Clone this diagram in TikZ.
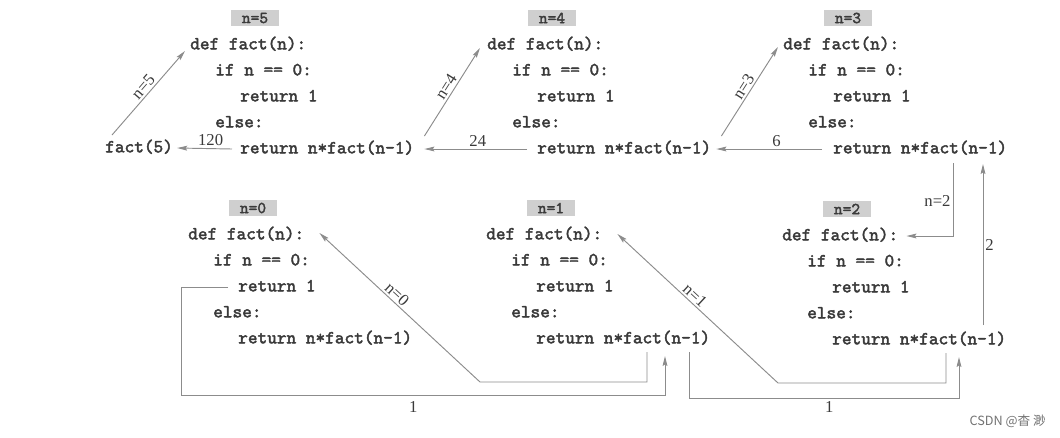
\documentclass[tikz,border=0pt]{standalone}
\usepackage{fontspec}
\newfontfamily\tms{Liberation Serif}
\newfontfamily\cjk{Noto Sans CJK SC}
\newfontfamily\cmono{lmmono10-regular.otf}[FakeBold=2.2]
\usetikzlibrary{arrows.meta,calc}
\definecolor{txt}{HTML}{3A3A3A}
\definecolor{lnc}{HTML}{8C8C8C}
\definecolor{lblfill}{HTML}{CFCFCF}
\newcommand\fblock[4]{%
  \node[nlbl] (#1lbl) at (#2+65,#3-27) {n=#4};
  \node[code] (#1def) at (#2,#3) {def fact(n):};
  \node[code] (#1if) at (#2+25,#3+26) {if n == 0:};
  \node[code] (#1ret) at (#2+50,#3+52) {return 1};
  \node[code] (#1else) at (#2+25,#3+78) {else:};
  \node[code] (#1rec) at (#2+50,#3+104) {return n*fact(n-1)};
}
\begin{document}
\begin{tikzpicture}[x=0.75pt,y=-0.75pt,
  code/.style={anchor=west,inner sep=0pt,text=txt,font=\cmono\bfseries\fontsize{13.8}{16}\selectfont,text height=9pt,text depth=2.5pt},
  nlbl/.style={fill=lblfill,inner sep=0pt,minimum width=36pt,minimum height=12.5pt,text=txt,font=\cmono\bfseries\fontsize{12.5}{14}\selectfont},
  arr/.style={draw=lnc,line width=0.7pt,-{Stealth[length=7.5pt,width=3.6pt,inset=1.2pt]}},
  num/.style={text=txt,font=\tms\fontsize{12.5}{14}\selectfont,inner sep=1.5pt}]
\fill[white] (0,0) rectangle (1060,437);
\useasboundingbox (0,0) rectangle (1060,437);

\fblock{b5}{190}{45}{5}
\fblock{b4}{487}{45}{4}
\fblock{b3}{783}{45}{3}
\fblock{b0}{188}{235}{0}
\fblock{b1}{486}{235}{1}
\fblock{b2}{782}{236}{2}
\node[code] (fact5) at (105,148) {fact(5)};

% calls, top row
\draw[arr] ([shift={(7,-13)}]fact5.west) -- node[num,sloped,above,pos=0.51]{n=5} ([shift={(-5,6)}]b5def.west);
\draw[arr] ([shift={(10,-13)}]b5rec.east) -- node[num,sloped,above,pos=0.51]{n=4} ([shift={(-7,3)}]b4def.west);
\draw[arr] ([shift={(10,-13)}]b4rec.east) -- node[num,sloped,above,pos=0.51]{n=3} ([shift={(-5,2)}]b3def.west);
% returns, top row
\draw[arr] ([shift={(-8,0)}]b5rec.west) -- node[num,above,pos=0.39]{120} ([shift={(4,0)}]fact5.east);
\draw[arr] ([shift={(-10,0)}]b4rec.west) -- node[num,above,pos=0.48]{24} ([shift={(10,0)}]b5rec.east);
\draw[arr] ([shift={(-11,0)}]b3rec.west) -- node[num,above,pos=0.43]{6} ([shift={(5,0)}]b4rec.east);
% n=3 -> n=2
\draw[arr] ([shift={(120,14)}]b3rec.west) |- node[num,pos=0.26,left]{n=2} ([shift={(8,0)}]b2def.east);
\draw[arr] ([shift={(151,-15)}]b2rec.west) -- node[num,right,pos=0.5]{2} ([shift={(150,15)}]b3rec.west);
% n=2 -> n=1 -> n=0
\draw[arr] ([shift={(114,13)}]b2rec.west) -- ++(0,30) -- ++(-168,0) -- node[num,sloped,above,pos=0.55]{n=1} ([shift={(15,-1)}]b1def.east);
\draw[arr] ([shift={(111,13)}]b1rec.west) -- ++(0,30) -- ++(-167,0) -- node[num,sloped,above,pos=0.55]{n=0} ([shift={(15,-2)}]b0def.east);
% returns, bottom row
\draw[arr] ([shift={(-10,0)}]b0ret.west) -- ++(-47,0) -- ++(0,108) -| node[num,pos=0.24,below=3pt]{1} ([shift={(129,17)}]b1rec.west);
\draw[arr] ([shift={(153,13)}]b1rec.west) -- ++(0,46) -| node[num,pos=0.26,below=1pt]{1} ([shift={(127,17)}]b2rec.west);

\node[text=black!55,font=\cjk\fontsize{9.5}{11}\selectfont,anchor=east,inner sep=0pt] (wm) at (1046,421) {CSDN @杳 渺};
\end{tikzpicture}
\end{document}
